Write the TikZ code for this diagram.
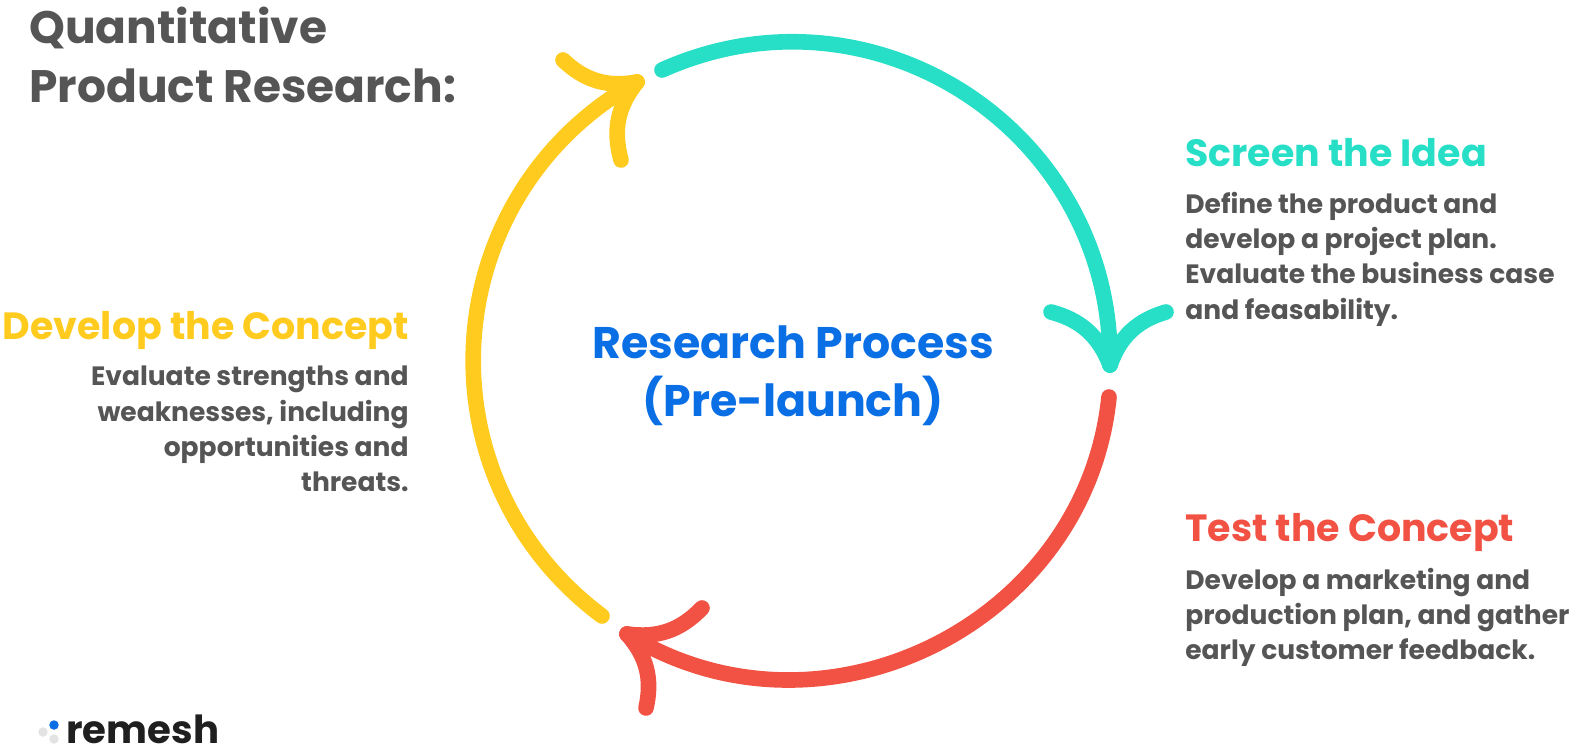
\documentclass[tikz,border=0pt]{standalone}
\usepackage{fontspec}
\usepackage{xcolor}
\setmainfont{Poppins}
\usetikzlibrary{arrows, arrows.meta}
\definecolor{tealline}{HTML}{26DFC6}
\definecolor{redline}{HTML}{F25244}
\definecolor{yellowline}{HTML}{FFCB1F}
\definecolor{blueline}{HTML}{0A6FE5}
\definecolor{textgray}{HTML}{555555}
\tikzset{
  loopline/.style={line width=8.9pt, line cap=round, line join=round},
  headtext/.style={inner sep=0pt, font=\fontsize{21.6}{34}\selectfont\bfseries},
  bodytext/.style={inner sep=0pt, textgray, font=\fontsize{15.1}{20}\selectfont\bfseries},
  titletext/.style={inner sep=0pt, textgray, align=left, anchor=north west, font=\fontsize{25.9}{33.4}\selectfont\bfseries},
  dot/.style={circle, inner sep=0pt, minimum size=5.4pt},
}
\begin{document}
\begin{tikzpicture}[x=0.02cm,y=0.02cm]
\useasboundingbox (0,0) rectangle (1584,745);
\coordinate (tealstart) at (662,675);
\coordinate (tealtip) at (1110,380);
\coordinate (tealbarba) at (1051,433);
\coordinate (tealbarbb) at (1166,433);
\coordinate (redstart) at (1109,348);
\coordinate (redtip) at (627,111);
\coordinate (redbarba) at (702,137);
\coordinate (redbarbb) at (646,37);
\coordinate (yellowstart) at (602,129);
\coordinate (yellowtip) at (637,663);
\coordinate (yellowbarba) at (563,685);
\coordinate (yellowbarbb) at (621,585);
% teal
\draw[loopline,tealline] (tealstart) to[bend left=57.5,looseness=1.11] (tealtip);
\draw[loopline,tealline] (tealbarba) to[bend left=27] (tealtip);
\draw[loopline,tealline] (tealbarbb) to[bend right=27] (tealtip);
% red
\draw[loopline,redline] (redstart) to[bend left=58,looseness=1.09] (redtip);
\draw[loopline,redline] (redbarba) to[bend left=27] (redtip);
\draw[loopline,redline] (redbarbb) to[bend right=27] (redtip);
% yellow
\draw[loopline,yellowline] (yellowstart) to[bend left=57,looseness=1.11] (yellowtip);
\draw[loopline,yellowline] (yellowbarba) to[bend right=27] (yellowtip);
\draw[loopline,yellowline] (yellowbarbb) to[bend left=27] (yellowtip);
\node[titletext] (title) at (29,738) {Quantitative\\Product Research:};
\node[headtext,tealline,anchor=base west] (screen) at (1185,579) {Screen the Idea};
\node[bodytext,align=left,anchor=north west] (screenbody) at (1185,553) {Define the product and\\develop a project plan.\\Evaluate the business case\\and feasability.};
\node[headtext,yellowline,anchor=base east] (develop) at (409,406) {Develop the Concept};
\node[bodytext,align=right,anchor=north east] (developbody) at (409,379) {Evaluate strengths and\\weaknesses, including\\opportunities and\\threats.};
\node[headtext,redline,anchor=base west] (test) at (1185,204) {Test the Concept};
\node[bodytext,align=left,anchor=north west] (testbody) at (1185,177) {Develop a marketing and\\production plan, and gather\\early customer feedback.};
\node[inner sep=0pt,blueline,align=center,anchor=north,font=\fontsize{25.2}{33.4}\selectfont\bfseries] (center) at (793,420) {Research Process\\(Pre-launch)};
\node[dot,fill=blueline] (dotblue) at (54,20) {};
\node[dot,fill=gray!22] (dotleft) at (43,13) {};
\node[dot,fill=gray!22] (dotlow) at (54,6) {};
\node[inner sep=0pt,anchor=base west,text=black!88,font=\fontsize{22}{26}\selectfont\bfseries] (logo) at (66,2) {remesh};
\end{tikzpicture}
\end{document}
